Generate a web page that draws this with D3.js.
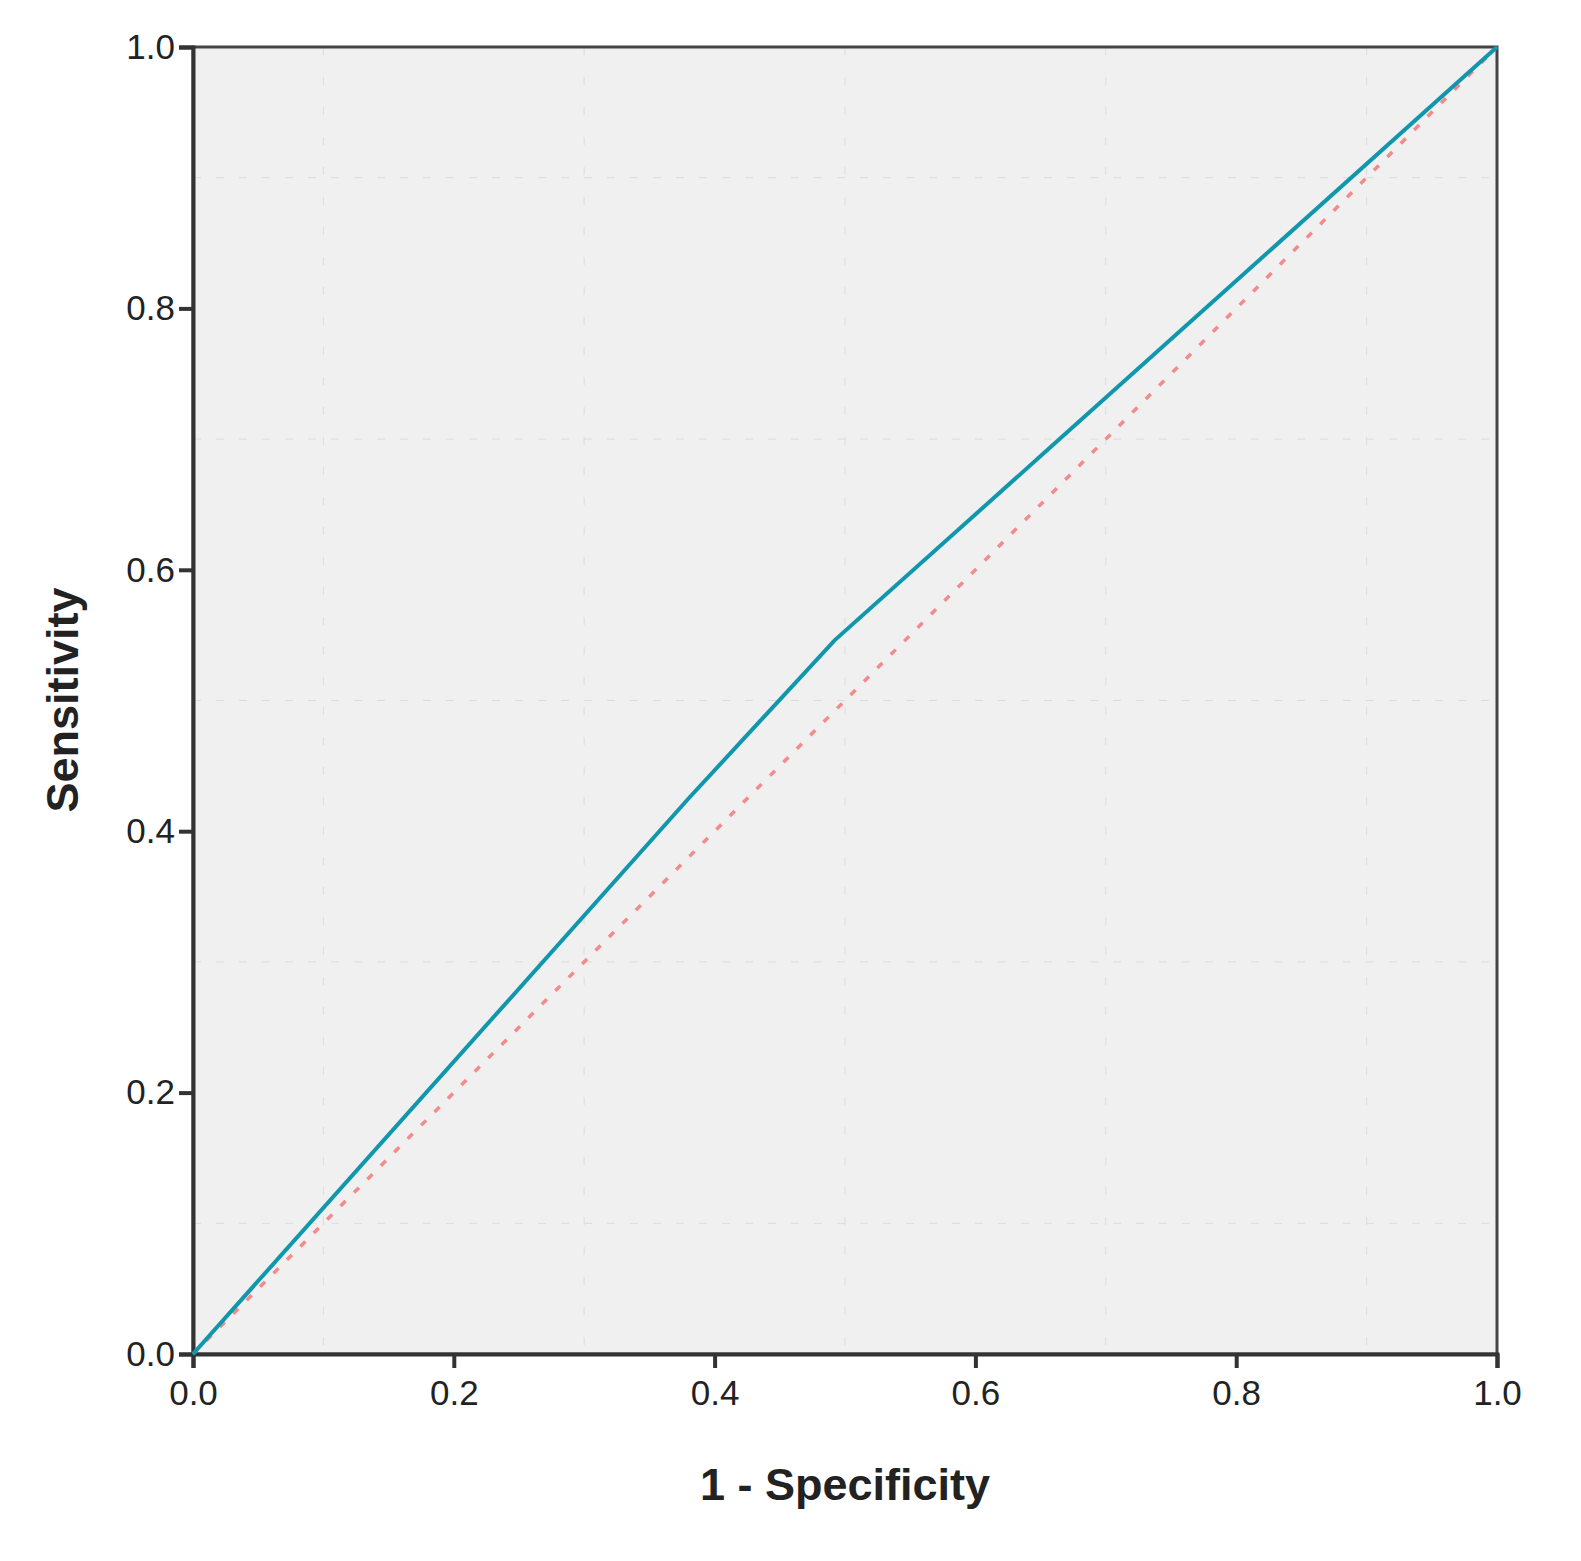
<!DOCTYPE html><html><head><meta charset="utf-8"><script src="https://cdn.jsdelivr.net/npm/d3@7"></script>
<style>body{margin:0;background:#fff}text{font-family:"Liberation Sans",Arial,sans-serif}</style></head><body><svg width="1581" height="1561"></svg><script>
const rocX=[0,0.38,0.492,0.65,1];
const rocY=[0,0.425,0.546,0.687,1];
const refX=[0,1], refY=[0,1];
const ticks=[0,0.2,0.4,0.6,0.8,1.0];
const grids=[0.1,0.3,0.5,0.7,0.9];
const svg=d3.select("svg");
const x=d3.scaleLinear().domain([0,1]).range([193,1497]);
const y=d3.scaleLinear().domain([0,1]).range([1354,47]);
svg.append("rect").attr("x",193).attr("y",47).attr("width",1304).attr("height",1307).attr("fill","#f0f0f0");
const g=svg.append("g");
grids.forEach(v=>{
 g.append("line").attr("x1",x(v)).attr("x2",x(v)).attr("y1",47).attr("y2",1354).attr("stroke","#dcdcdc").attr("stroke-dasharray","8,22");
 g.append("line").attr("y1",y(v)).attr("y2",y(v)).attr("x1",193).attr("x2",1497).attr("stroke","#dcdcdc").attr("stroke-dasharray","8,15");
});
svg.append("rect").attr("x",193).attr("y",47).attr("width",1304).attr("height",1307).attr("fill","none").attr("stroke","#444").attr("stroke-width",3);
const xa=svg.append("g").attr("transform","translate(0,1354)").call(d3.axisBottom(x).tickValues(ticks).tickFormat(d3.format(".1f")).tickSize(14).tickPadding(12));
const ya=svg.append("g").attr("transform","translate(193,0)").call(d3.axisLeft(y).tickValues(ticks).tickFormat(d3.format(".1f")).tickSize(14).tickPadding(4));
[xa,ya].forEach(a=>{a.select(".domain").attr("stroke","#333").attr("stroke-width",4);a.selectAll(".tick line").attr("stroke","#333").attr("stroke-width",4);a.selectAll("text").attr("font-size",35).attr("fill","#222").attr("font-family","Liberation Sans,Arial,sans-serif");});
const line=d3.line().x(d=>x(d[0])).y(d=>y(d[1]));
svg.append("path").datum(refX.map((v,i)=>[v,refY[i]])).attr("d",line).attr("fill","none").attr("stroke","#f48a8a").attr("stroke-width",3.5).attr("stroke-dasharray","7,12");
svg.append("path").datum(rocX.map((v,i)=>[v,rocY[i]])).attr("d",line).attr("fill","none").attr("stroke","#1197ad").attr("stroke-width",4);
svg.append("text").attr("x",845).attr("y",1500).attr("text-anchor","middle").attr("font-size",45).attr("font-weight","bold").attr("fill","#222").text("1 - Specificity");
svg.append("text").attr("transform","translate(78,700) rotate(-90)").attr("text-anchor","middle").attr("font-size",45).attr("font-weight","bold").attr("fill","#222").text("Sensitivity");
</script></body></html>
